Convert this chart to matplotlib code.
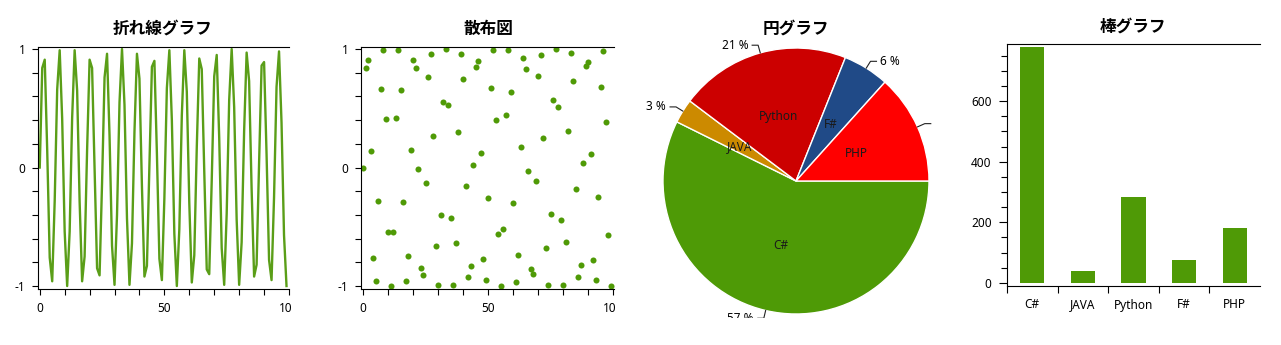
import matplotlib
matplotlib.use('Agg')
import matplotlib.pyplot as plt
import numpy as np
from matplotlib.transforms import Bbox, TransformedBbox

plt.rcParams['font.family'] = ['Noto Sans', 'Noto Sans CJK JP', 'DejaVu Sans']
plt.rcParams['font.size'] = 8.5

# values (x = 0..99)
wave_x = list(range(100))
wave_y = [0.00, 0.84, 0.91, 0.14, -0.76, -0.96, -0.28, 0.66, 0.99, 0.41,
          -0.54, -1.00, -0.54, 0.42, 0.99, 0.65, -0.29, -0.96, -0.75, 0.15,
          0.91, 0.84, -0.01, -0.85, -0.91, -0.13, 0.76, 0.96, 0.27, -0.66,
          -0.99, -0.40, 0.55, 1.00, 0.53, -0.43, -0.99, -0.64, 0.30, 0.96,
          0.75, -0.16, -0.92, -0.83, 0.02, 0.85, 0.90, 0.12, -0.77, -0.95,
          -0.26, 0.67, 0.99, 0.40, -0.56, -1.00, -0.52, 0.44, 0.99, 0.64,
          -0.30, -0.97, -0.74, 0.17, 0.92, 0.83, -0.03, -0.86, -0.90, -0.11,
          0.77, 0.95, 0.25, -0.68, -0.99, -0.39, 0.57, 1.00, 0.51, -0.44,
          -0.99, -0.63, 0.31, 0.97, 0.73, -0.18, -0.92, -0.82, 0.04, 0.86,
          0.89, 0.11, -0.78, -0.95, -0.25, 0.68, 0.98, 0.38, -0.57, -1.00]

langs = ['C#', 'JAVA', 'Python', 'F#', 'PHP']
counts = [778, 40, 282, 76, 181]
pie_colors = ['#4e9a06', '#cc8a00', '#cc0000', '#204a87', '#ff0000']

titles = ['折れ線グラフ', '散布図', '円グラフ', '棒グラフ']

W, H = 1281, 345
fig = plt.figure(figsize=(W / 100, H / 100), dpi=100)


def box(l, t, r, b):
    return [l / W, 1 - b / H, (r - l) / W, (b - t) / H]


def style(ax):
    ax.spines['right'].set_visible(False)
    for s in ['left', 'bottom', 'top']:
        ax.spines[s].set_linewidth(0.8)
    ax.tick_params(which='both', direction='out', width=0.8, labelsize=8.5, pad=5)


def clip_right(ax, xpix):
    cb = TransformedBbox(Bbox([[0, 0], [xpix / W, 1]]), fig.transFigure)
    for lab in ax.get_xticklabels():
        lab.set_clip_box(cb)
        lab.set_clip_on(True)


green = '#4f9a06'

# line chart
ax1 = fig.add_axes(box(38, 47, 289, 289))
ax1.plot(wave_x, wave_y, color='#5a9e18', lw=1.7)
ax1.set_xlim(-0.7, 100)
ax1.set_ylim(-1.025, 1.017)
ax1.set_xticks([0, 50, 100])
ax1.set_xticks(np.arange(0, 101, 10), minor=True)
ax1.set_yticks([-1, 0, 1])
ax1.set_yticks(np.arange(-1, 1.01, 0.2), minor=True)
ax1.set_yticklabels(['-1', '0', '1'])
style(ax1)
ax1.tick_params(which='both', length=4)
clip_right(ax1, 291)

# scatter
ax2 = fig.add_axes(box(361, 47, 614, 289))
ax2.scatter(wave_x, wave_y, color=green, s=19, linewidths=0)
ax2.set_xlim(-0.8, 100.4)
ax2.set_ylim(-1.025, 1.017)
ax2.set_xticks([0, 50, 100])
ax2.set_xticks(np.arange(0, 101, 10), minor=True)
ax2.set_yticks([-1, 0, 1])
ax2.set_yticks(np.arange(-1, 1.01, 0.2), minor=True)
ax2.set_yticklabels(['-1', '0', '1'])
style(ax2)
ax2.tick_params(which='both', length=4)
clip_right(ax2, 615)

# pie
ax3 = fig.add_axes(box(640, 30, 936, 318))
wedges, texts = ax3.pie(counts, labels=langs, colors=pie_colors, startangle=0,
                        counterclock=False, labeldistance=0.5,
                        wedgeprops=dict(edgecolor='white', linewidth=1),
                        textprops=dict(fontsize=8.5, color='#1a1a1a'))
for t in texts:
    t.set_ha('center')
    t.set_va('center')
total = sum(counts)
for w, v in zip(wedges, counts):
    mid = np.deg2rad((w.theta1 + w.theta2) / 2)
    c, s = np.cos(mid), np.sin(mid)
    sg = 1 if c >= 0 else -1
    p2 = (1.06 * c, 1.06 * s)
    p3 = (p2[0] + sg * 0.045, p2[1])
    ax3.plot([c, p2[0], p3[0]], [s, p2[1], p3[1]], color='#222222', lw=0.8)
    ax3.text(p3[0] + sg * 0.03, p3[1], f'{round(v / total * 100)} %',
             ha='left' if sg > 0 else 'right', va='center', fontsize=8.5,
             clip_on=True)
ax3.set_aspect('auto')
ax3.set_xlim((640 - 796) / 133, (936 - 796) / 133)
ax3.set_ylim((181 - 318) / 133, (181 - 30) / 133)
ax3.set_axis_off()

# bar chart
ax4 = fig.add_axes(box(1007, 44, 1260, 286))
pos = np.arange(len(langs))
ax4.bar(pos, counts, width=0.48, color=green)
ax4.set_xlim(-0.5, len(langs) - 0.5)
ax4.set_ylim(-10, 788)
ax4.set_xticks(pos)
ax4.set_xticklabels(langs)
ax4.set_xticks(list(pos[:-1] + 0.5) + [-0.5], minor=True)
ax4.set_yticks([0, 200, 400, 600])
ax4.set_yticks(np.arange(0, 751, 50), minor=True)
style(ax4)
ax4.tick_params(axis='x', which='major', length=0, pad=9)
ax4.tick_params(axis='x', which='minor', length=5)
ax4.tick_params(axis='y', which='major', length=6)
ax4.tick_params(axis='y', which='minor', length=4)

# titles
for tx, ty, t in zip([163, 488, 796, 1133], [29, 29, 29, 27], titles):
    fig.text(tx / W, 1 - ty / H, t, ha='center', va='center', fontsize=12,
             fontweight='bold', family=['Noto Sans CJK JP', 'DejaVu Sans'])

fig.savefig('out.png', dpi=100)
